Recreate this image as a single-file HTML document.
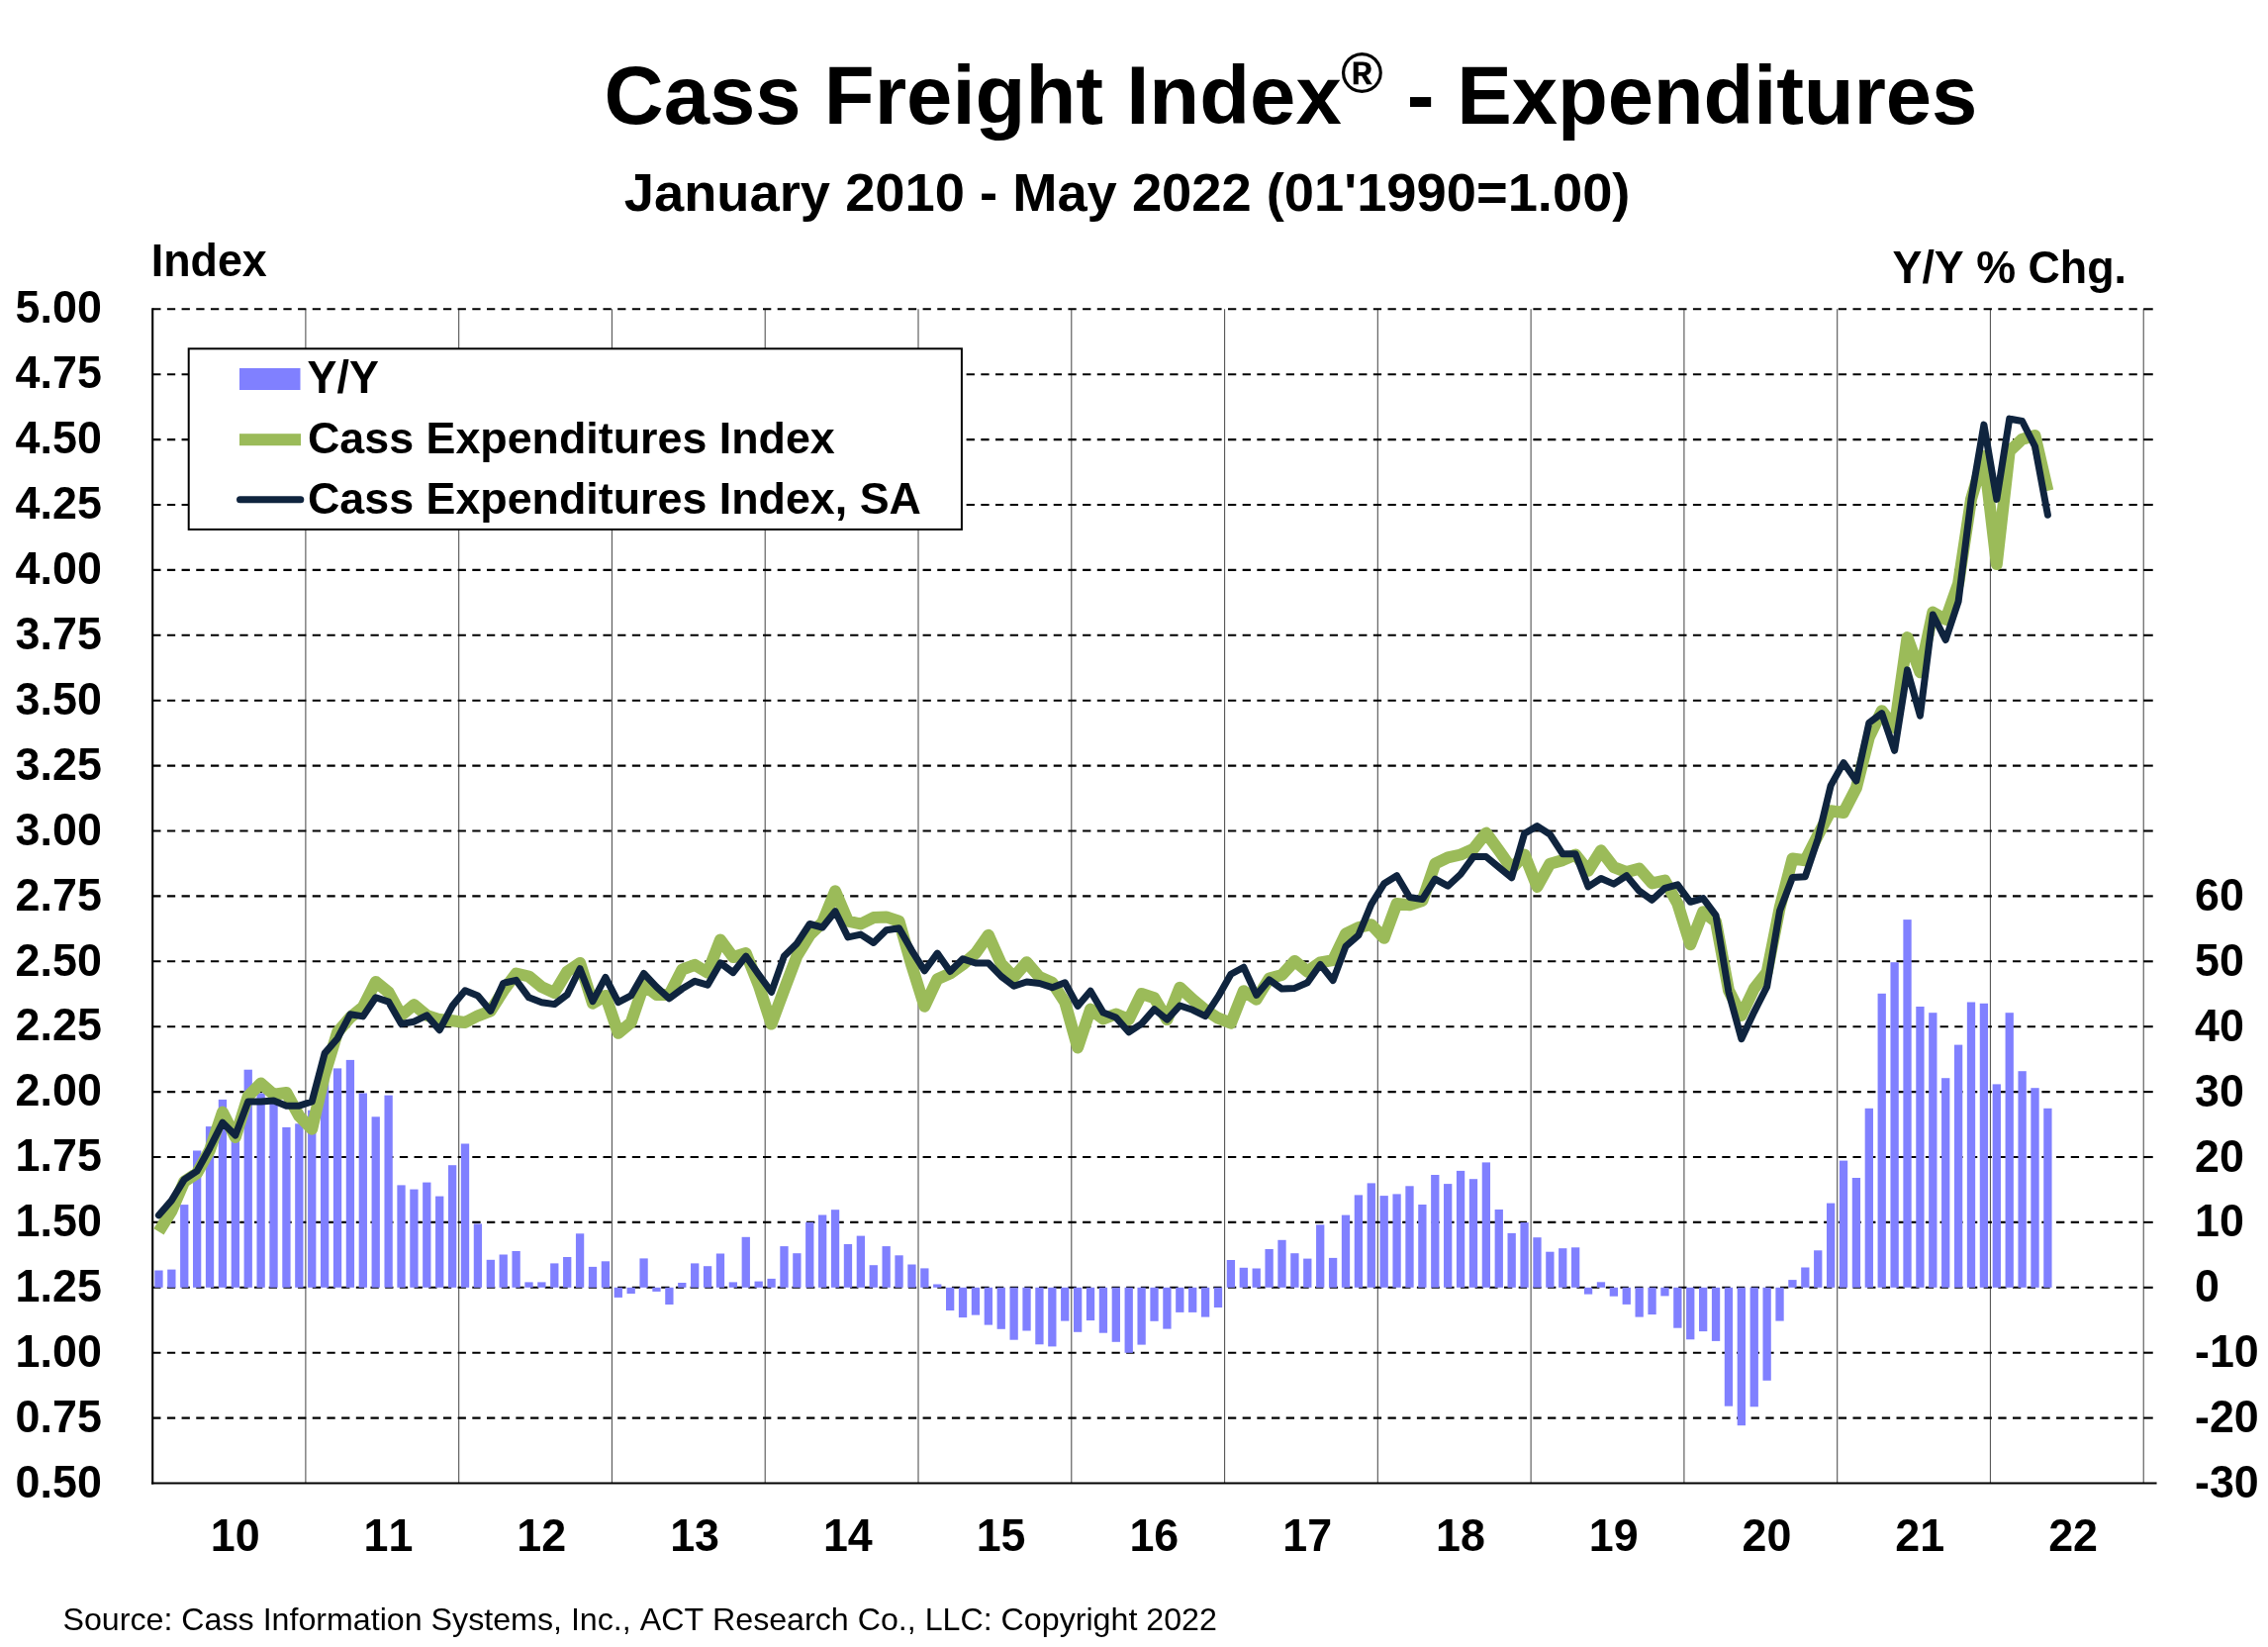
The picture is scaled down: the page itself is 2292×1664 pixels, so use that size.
<!DOCTYPE html>
<html><head><meta charset="utf-8"><title>Cass Freight Index - Expenditures</title>
<style>
html,body{margin:0;padding:0;background:#fff;}
body{width:2292px;height:1664px;overflow:hidden;}
svg{display:block;will-change:transform;font-family:"Liberation Sans",sans-serif;font-kerning:none;}
text{fill:#000;}
</style></head>
<body>
<svg width="2292" height="1664" viewBox="0 0 2292 1664">
<rect width="2292" height="1664" fill="#fff"/>
<line x1="308.88" y1="312.30" x2="308.88" y2="1498.50" stroke="#5a5a5a" stroke-width="1.15"/>
<line x1="463.66" y1="312.30" x2="463.66" y2="1498.50" stroke="#5a5a5a" stroke-width="1.15"/>
<line x1="618.44" y1="312.30" x2="618.44" y2="1498.50" stroke="#5a5a5a" stroke-width="1.15"/>
<line x1="773.22" y1="312.30" x2="773.22" y2="1498.50" stroke="#5a5a5a" stroke-width="1.15"/>
<line x1="928.00" y1="312.30" x2="928.00" y2="1498.50" stroke="#5a5a5a" stroke-width="1.15"/>
<line x1="1082.78" y1="312.30" x2="1082.78" y2="1498.50" stroke="#5a5a5a" stroke-width="1.15"/>
<line x1="1237.56" y1="312.30" x2="1237.56" y2="1498.50" stroke="#5a5a5a" stroke-width="1.15"/>
<line x1="1392.34" y1="312.30" x2="1392.34" y2="1498.50" stroke="#5a5a5a" stroke-width="1.15"/>
<line x1="1547.12" y1="312.30" x2="1547.12" y2="1498.50" stroke="#5a5a5a" stroke-width="1.15"/>
<line x1="1701.90" y1="312.30" x2="1701.90" y2="1498.50" stroke="#5a5a5a" stroke-width="1.15"/>
<line x1="1856.68" y1="312.30" x2="1856.68" y2="1498.50" stroke="#5a5a5a" stroke-width="1.15"/>
<line x1="2011.46" y1="312.30" x2="2011.46" y2="1498.50" stroke="#5a5a5a" stroke-width="1.15"/>
<line x1="2166.24" y1="312.30" x2="2166.24" y2="1498.50" stroke="#5a5a5a" stroke-width="1.15"/>
<line x1="154.20" y1="312.30" x2="2166.14" y2="312.30" stroke="#000" stroke-width="2.1" stroke-dasharray="8.3 6.386"/>
<line x1="2166.14" y1="312.30" x2="2175.74" y2="312.30" stroke="#000" stroke-width="2.1"/>
<line x1="154.20" y1="378.20" x2="2166.14" y2="378.20" stroke="#000" stroke-width="2.1" stroke-dasharray="8.3 6.386"/>
<line x1="2166.14" y1="378.20" x2="2175.74" y2="378.20" stroke="#000" stroke-width="2.1"/>
<line x1="154.20" y1="444.10" x2="2166.14" y2="444.10" stroke="#000" stroke-width="2.1" stroke-dasharray="8.3 6.386"/>
<line x1="2166.14" y1="444.10" x2="2175.74" y2="444.10" stroke="#000" stroke-width="2.1"/>
<line x1="154.20" y1="510.00" x2="2166.14" y2="510.00" stroke="#000" stroke-width="2.1" stroke-dasharray="8.3 6.386"/>
<line x1="2166.14" y1="510.00" x2="2175.74" y2="510.00" stroke="#000" stroke-width="2.1"/>
<line x1="154.20" y1="575.90" x2="2166.14" y2="575.90" stroke="#000" stroke-width="2.1" stroke-dasharray="8.3 6.386"/>
<line x1="2166.14" y1="575.90" x2="2175.74" y2="575.90" stroke="#000" stroke-width="2.1"/>
<line x1="154.20" y1="641.80" x2="2166.14" y2="641.80" stroke="#000" stroke-width="2.1" stroke-dasharray="8.3 6.386"/>
<line x1="2166.14" y1="641.80" x2="2175.74" y2="641.80" stroke="#000" stroke-width="2.1"/>
<line x1="154.20" y1="707.70" x2="2166.14" y2="707.70" stroke="#000" stroke-width="2.1" stroke-dasharray="8.3 6.386"/>
<line x1="2166.14" y1="707.70" x2="2175.74" y2="707.70" stroke="#000" stroke-width="2.1"/>
<line x1="154.20" y1="773.60" x2="2166.14" y2="773.60" stroke="#000" stroke-width="2.1" stroke-dasharray="8.3 6.386"/>
<line x1="2166.14" y1="773.60" x2="2175.74" y2="773.60" stroke="#000" stroke-width="2.1"/>
<line x1="154.20" y1="839.50" x2="2166.14" y2="839.50" stroke="#000" stroke-width="2.1" stroke-dasharray="8.3 6.386"/>
<line x1="2166.14" y1="839.50" x2="2175.74" y2="839.50" stroke="#000" stroke-width="2.1"/>
<line x1="154.20" y1="905.40" x2="2166.14" y2="905.40" stroke="#000" stroke-width="2.1" stroke-dasharray="8.3 6.386"/>
<line x1="2166.14" y1="905.40" x2="2175.74" y2="905.40" stroke="#000" stroke-width="2.1"/>
<line x1="154.20" y1="971.30" x2="2166.14" y2="971.30" stroke="#000" stroke-width="2.1" stroke-dasharray="8.3 6.386"/>
<line x1="2166.14" y1="971.30" x2="2175.74" y2="971.30" stroke="#000" stroke-width="2.1"/>
<line x1="154.20" y1="1037.20" x2="2166.14" y2="1037.20" stroke="#000" stroke-width="2.1" stroke-dasharray="8.3 6.386"/>
<line x1="2166.14" y1="1037.20" x2="2175.74" y2="1037.20" stroke="#000" stroke-width="2.1"/>
<line x1="154.20" y1="1103.10" x2="2166.14" y2="1103.10" stroke="#000" stroke-width="2.1" stroke-dasharray="8.3 6.386"/>
<line x1="2166.14" y1="1103.10" x2="2175.74" y2="1103.10" stroke="#000" stroke-width="2.1"/>
<line x1="154.20" y1="1169.00" x2="2166.14" y2="1169.00" stroke="#000" stroke-width="2.1" stroke-dasharray="8.3 6.386"/>
<line x1="2166.14" y1="1169.00" x2="2175.74" y2="1169.00" stroke="#000" stroke-width="2.1"/>
<line x1="154.20" y1="1234.90" x2="2166.14" y2="1234.90" stroke="#000" stroke-width="2.1" stroke-dasharray="8.3 6.386"/>
<line x1="2166.14" y1="1234.90" x2="2175.74" y2="1234.90" stroke="#000" stroke-width="2.1"/>
<line x1="154.20" y1="1300.80" x2="2166.14" y2="1300.80" stroke="#000" stroke-width="2.1" stroke-dasharray="8.3 6.386"/>
<line x1="2166.14" y1="1300.80" x2="2175.74" y2="1300.80" stroke="#000" stroke-width="2.1"/>
<line x1="154.20" y1="1366.70" x2="2166.14" y2="1366.70" stroke="#000" stroke-width="2.1" stroke-dasharray="8.3 6.386"/>
<line x1="2166.14" y1="1366.70" x2="2175.74" y2="1366.70" stroke="#000" stroke-width="2.1"/>
<line x1="154.20" y1="1432.60" x2="2166.14" y2="1432.60" stroke="#000" stroke-width="2.1" stroke-dasharray="8.3 6.386"/>
<line x1="2166.14" y1="1432.60" x2="2175.74" y2="1432.60" stroke="#000" stroke-width="2.1"/>
<rect x="156.30" y="1283.50" width="8.3" height="17.30" fill="#8080FF"/>
<rect x="169.20" y="1282.60" width="8.3" height="18.20" fill="#8080FF"/>
<rect x="182.10" y="1217.10" width="8.3" height="83.70" fill="#8080FF"/>
<rect x="194.99" y="1162.50" width="8.3" height="138.30" fill="#8080FF"/>
<rect x="207.89" y="1138.10" width="8.3" height="162.70" fill="#8080FF"/>
<rect x="220.79" y="1110.90" width="8.3" height="189.90" fill="#8080FF"/>
<rect x="233.69" y="1145.00" width="8.3" height="155.80" fill="#8080FF"/>
<rect x="246.59" y="1080.70" width="8.3" height="220.10" fill="#8080FF"/>
<rect x="259.49" y="1104.50" width="8.3" height="196.30" fill="#8080FF"/>
<rect x="272.38" y="1101.30" width="8.3" height="199.50" fill="#8080FF"/>
<rect x="285.28" y="1138.90" width="8.3" height="161.90" fill="#8080FF"/>
<rect x="298.18" y="1135.30" width="8.3" height="165.50" fill="#8080FF"/>
<rect x="311.08" y="1121.70" width="8.3" height="179.10" fill="#8080FF"/>
<rect x="323.98" y="1092.00" width="8.3" height="208.80" fill="#8080FF"/>
<rect x="336.88" y="1079.40" width="8.3" height="221.40" fill="#8080FF"/>
<rect x="349.77" y="1070.90" width="8.3" height="229.90" fill="#8080FF"/>
<rect x="362.67" y="1104.50" width="8.3" height="196.30" fill="#8080FF"/>
<rect x="375.57" y="1128.30" width="8.3" height="172.50" fill="#8080FF"/>
<rect x="388.47" y="1106.60" width="8.3" height="194.20" fill="#8080FF"/>
<rect x="401.37" y="1197.40" width="8.3" height="103.40" fill="#8080FF"/>
<rect x="414.27" y="1201.60" width="8.3" height="99.20" fill="#8080FF"/>
<rect x="427.16" y="1194.60" width="8.3" height="106.20" fill="#8080FF"/>
<rect x="440.06" y="1208.60" width="8.3" height="92.20" fill="#8080FF"/>
<rect x="452.96" y="1177.20" width="8.3" height="123.60" fill="#8080FF"/>
<rect x="465.86" y="1155.50" width="8.3" height="145.30" fill="#8080FF"/>
<rect x="478.76" y="1236.40" width="8.3" height="64.40" fill="#8080FF"/>
<rect x="491.66" y="1272.80" width="8.3" height="28.00" fill="#8080FF"/>
<rect x="504.55" y="1267.50" width="8.3" height="33.30" fill="#8080FF"/>
<rect x="517.45" y="1264.00" width="8.3" height="36.80" fill="#8080FF"/>
<rect x="530.35" y="1295.40" width="8.3" height="5.40" fill="#8080FF"/>
<rect x="543.25" y="1295.40" width="8.3" height="5.40" fill="#8080FF"/>
<rect x="556.15" y="1276.40" width="8.3" height="24.40" fill="#8080FF"/>
<rect x="569.05" y="1270.00" width="8.3" height="30.80" fill="#8080FF"/>
<rect x="581.94" y="1246.30" width="8.3" height="54.50" fill="#8080FF"/>
<rect x="594.84" y="1279.90" width="8.3" height="20.90" fill="#8080FF"/>
<rect x="607.74" y="1274.30" width="8.3" height="26.50" fill="#8080FF"/>
<rect x="620.64" y="1300.80" width="8.3" height="10.10" fill="#8080FF"/>
<rect x="633.54" y="1300.80" width="8.3" height="6.20" fill="#8080FF"/>
<rect x="646.44" y="1271.40" width="8.3" height="29.40" fill="#8080FF"/>
<rect x="659.33" y="1300.80" width="8.3" height="4.10" fill="#8080FF"/>
<rect x="672.23" y="1300.80" width="8.3" height="17.20" fill="#8080FF"/>
<rect x="685.13" y="1296.00" width="8.3" height="4.80" fill="#8080FF"/>
<rect x="698.03" y="1276.40" width="8.3" height="24.40" fill="#8080FF"/>
<rect x="710.93" y="1279.20" width="8.3" height="21.60" fill="#8080FF"/>
<rect x="723.83" y="1266.50" width="8.3" height="34.30" fill="#8080FF"/>
<rect x="736.72" y="1295.40" width="8.3" height="5.40" fill="#8080FF"/>
<rect x="749.62" y="1249.80" width="8.3" height="51.00" fill="#8080FF"/>
<rect x="762.52" y="1294.60" width="8.3" height="6.20" fill="#8080FF"/>
<rect x="775.42" y="1291.90" width="8.3" height="8.90" fill="#8080FF"/>
<rect x="788.32" y="1259.10" width="8.3" height="41.70" fill="#8080FF"/>
<rect x="801.22" y="1266.20" width="8.3" height="34.60" fill="#8080FF"/>
<rect x="814.11" y="1234.90" width="8.3" height="65.90" fill="#8080FF"/>
<rect x="827.01" y="1227.50" width="8.3" height="73.30" fill="#8080FF"/>
<rect x="839.91" y="1222.20" width="8.3" height="78.60" fill="#8080FF"/>
<rect x="852.81" y="1257.00" width="8.3" height="43.80" fill="#8080FF"/>
<rect x="865.71" y="1248.60" width="8.3" height="52.20" fill="#8080FF"/>
<rect x="878.61" y="1278.20" width="8.3" height="22.60" fill="#8080FF"/>
<rect x="891.50" y="1259.10" width="8.3" height="41.70" fill="#8080FF"/>
<rect x="904.40" y="1268.30" width="8.3" height="32.50" fill="#8080FF"/>
<rect x="917.30" y="1277.50" width="8.3" height="23.30" fill="#8080FF"/>
<rect x="930.20" y="1281.40" width="8.3" height="19.40" fill="#8080FF"/>
<rect x="943.10" y="1297.50" width="8.3" height="3.30" fill="#8080FF"/>
<rect x="956.00" y="1300.80" width="8.3" height="23.20" fill="#8080FF"/>
<rect x="968.89" y="1300.80" width="8.3" height="30.30" fill="#8080FF"/>
<rect x="981.79" y="1300.80" width="8.3" height="27.80" fill="#8080FF"/>
<rect x="994.69" y="1300.80" width="8.3" height="37.80" fill="#8080FF"/>
<rect x="1007.59" y="1300.80" width="8.3" height="42.00" fill="#8080FF"/>
<rect x="1020.49" y="1300.80" width="8.3" height="52.90" fill="#8080FF"/>
<rect x="1033.39" y="1300.80" width="8.3" height="43.70" fill="#8080FF"/>
<rect x="1046.28" y="1300.80" width="8.3" height="57.50" fill="#8080FF"/>
<rect x="1059.18" y="1300.80" width="8.3" height="59.60" fill="#8080FF"/>
<rect x="1072.08" y="1300.80" width="8.3" height="33.80" fill="#8080FF"/>
<rect x="1084.98" y="1300.80" width="8.3" height="45.00" fill="#8080FF"/>
<rect x="1097.88" y="1300.80" width="8.3" height="33.30" fill="#8080FF"/>
<rect x="1110.78" y="1300.80" width="8.3" height="45.90" fill="#8080FF"/>
<rect x="1123.67" y="1300.80" width="8.3" height="55.00" fill="#8080FF"/>
<rect x="1136.57" y="1300.80" width="8.3" height="66.00" fill="#8080FF"/>
<rect x="1149.47" y="1300.80" width="8.3" height="57.80" fill="#8080FF"/>
<rect x="1162.37" y="1300.80" width="8.3" height="34.00" fill="#8080FF"/>
<rect x="1175.27" y="1300.80" width="8.3" height="41.80" fill="#8080FF"/>
<rect x="1188.17" y="1300.80" width="8.3" height="25.10" fill="#8080FF"/>
<rect x="1201.06" y="1300.80" width="8.3" height="25.10" fill="#8080FF"/>
<rect x="1213.96" y="1300.80" width="8.3" height="29.80" fill="#8080FF"/>
<rect x="1226.86" y="1300.80" width="8.3" height="20.20" fill="#8080FF"/>
<rect x="1239.76" y="1273.00" width="8.3" height="27.80" fill="#8080FF"/>
<rect x="1252.66" y="1280.80" width="8.3" height="20.00" fill="#8080FF"/>
<rect x="1265.56" y="1281.50" width="8.3" height="19.30" fill="#8080FF"/>
<rect x="1278.45" y="1262.00" width="8.3" height="38.80" fill="#8080FF"/>
<rect x="1291.35" y="1252.80" width="8.3" height="48.00" fill="#8080FF"/>
<rect x="1304.25" y="1266.20" width="8.3" height="34.60" fill="#8080FF"/>
<rect x="1317.15" y="1271.60" width="8.3" height="29.20" fill="#8080FF"/>
<rect x="1330.05" y="1237.40" width="8.3" height="63.40" fill="#8080FF"/>
<rect x="1342.95" y="1270.90" width="8.3" height="29.90" fill="#8080FF"/>
<rect x="1355.84" y="1227.60" width="8.3" height="73.20" fill="#8080FF"/>
<rect x="1368.74" y="1207.40" width="8.3" height="93.40" fill="#8080FF"/>
<rect x="1381.64" y="1195.40" width="8.3" height="105.40" fill="#8080FF"/>
<rect x="1394.54" y="1208.10" width="8.3" height="92.70" fill="#8080FF"/>
<rect x="1407.44" y="1206.40" width="8.3" height="94.40" fill="#8080FF"/>
<rect x="1420.34" y="1198.30" width="8.3" height="102.50" fill="#8080FF"/>
<rect x="1433.23" y="1217.00" width="8.3" height="83.80" fill="#8080FF"/>
<rect x="1446.13" y="1187.00" width="8.3" height="113.80" fill="#8080FF"/>
<rect x="1459.03" y="1196.10" width="8.3" height="104.70" fill="#8080FF"/>
<rect x="1471.93" y="1182.90" width="8.3" height="117.90" fill="#8080FF"/>
<rect x="1484.83" y="1191.20" width="8.3" height="109.60" fill="#8080FF"/>
<rect x="1497.73" y="1174.40" width="8.3" height="126.40" fill="#8080FF"/>
<rect x="1510.62" y="1222.00" width="8.3" height="78.80" fill="#8080FF"/>
<rect x="1523.52" y="1245.90" width="8.3" height="54.90" fill="#8080FF"/>
<rect x="1536.42" y="1235.10" width="8.3" height="65.70" fill="#8080FF"/>
<rect x="1549.32" y="1250.20" width="8.3" height="50.60" fill="#8080FF"/>
<rect x="1562.22" y="1264.70" width="8.3" height="36.10" fill="#8080FF"/>
<rect x="1575.12" y="1261.20" width="8.3" height="39.60" fill="#8080FF"/>
<rect x="1588.01" y="1260.30" width="8.3" height="40.50" fill="#8080FF"/>
<rect x="1600.91" y="1300.80" width="8.3" height="6.80" fill="#8080FF"/>
<rect x="1613.81" y="1295.30" width="8.3" height="5.50" fill="#8080FF"/>
<rect x="1626.71" y="1300.80" width="8.3" height="8.90" fill="#8080FF"/>
<rect x="1639.61" y="1300.80" width="8.3" height="17.10" fill="#8080FF"/>
<rect x="1652.51" y="1300.80" width="8.3" height="29.80" fill="#8080FF"/>
<rect x="1665.40" y="1300.80" width="8.3" height="27.30" fill="#8080FF"/>
<rect x="1678.30" y="1300.80" width="8.3" height="8.60" fill="#8080FF"/>
<rect x="1691.20" y="1300.80" width="8.3" height="40.90" fill="#8080FF"/>
<rect x="1704.10" y="1300.80" width="8.3" height="52.50" fill="#8080FF"/>
<rect x="1717.00" y="1300.80" width="8.3" height="44.30" fill="#8080FF"/>
<rect x="1729.90" y="1300.80" width="8.3" height="54.10" fill="#8080FF"/>
<rect x="1742.79" y="1300.80" width="8.3" height="119.90" fill="#8080FF"/>
<rect x="1755.69" y="1300.80" width="8.3" height="139.40" fill="#8080FF"/>
<rect x="1768.59" y="1300.80" width="8.3" height="120.50" fill="#8080FF"/>
<rect x="1781.49" y="1300.80" width="8.3" height="94.00" fill="#8080FF"/>
<rect x="1794.39" y="1300.80" width="8.3" height="33.80" fill="#8080FF"/>
<rect x="1807.29" y="1293.10" width="8.3" height="7.70" fill="#8080FF"/>
<rect x="1820.18" y="1280.50" width="8.3" height="20.30" fill="#8080FF"/>
<rect x="1833.08" y="1263.30" width="8.3" height="37.50" fill="#8080FF"/>
<rect x="1845.98" y="1215.60" width="8.3" height="85.20" fill="#8080FF"/>
<rect x="1858.88" y="1172.60" width="8.3" height="128.20" fill="#8080FF"/>
<rect x="1871.78" y="1190.00" width="8.3" height="110.80" fill="#8080FF"/>
<rect x="1884.68" y="1119.80" width="8.3" height="181.00" fill="#8080FF"/>
<rect x="1897.57" y="1003.80" width="8.3" height="297.00" fill="#8080FF"/>
<rect x="1910.47" y="972.20" width="8.3" height="328.60" fill="#8080FF"/>
<rect x="1923.37" y="929.10" width="8.3" height="371.70" fill="#8080FF"/>
<rect x="1936.27" y="1017.00" width="8.3" height="283.80" fill="#8080FF"/>
<rect x="1949.17" y="1023.20" width="8.3" height="277.60" fill="#8080FF"/>
<rect x="1962.07" y="1089.20" width="8.3" height="211.60" fill="#8080FF"/>
<rect x="1974.96" y="1055.60" width="8.3" height="245.20" fill="#8080FF"/>
<rect x="1987.86" y="1012.50" width="8.3" height="288.30" fill="#8080FF"/>
<rect x="2000.76" y="1013.80" width="8.3" height="287.00" fill="#8080FF"/>
<rect x="2013.66" y="1095.40" width="8.3" height="205.40" fill="#8080FF"/>
<rect x="2026.56" y="1023.20" width="8.3" height="277.60" fill="#8080FF"/>
<rect x="2039.46" y="1082.20" width="8.3" height="218.60" fill="#8080FF"/>
<rect x="2052.35" y="1099.20" width="8.3" height="201.60" fill="#8080FF"/>
<rect x="2065.25" y="1119.80" width="8.3" height="181.00" fill="#8080FF"/>
<line x1="154.2" y1="311.30" x2="154.2" y2="1499.50" stroke="#000" stroke-width="2.1"/>
<line x1="153.00" y1="1498.50" x2="2179.54" y2="1498.50" stroke="#000" stroke-width="2.1"/>
<polyline points="160.45,1244.40 173.35,1223.50 186.25,1193.70 199.14,1185.20 212.04,1161.90 224.94,1123.60 237.84,1149.00 250.74,1107.50 263.64,1094.50 276.53,1105.80 289.43,1104.00 302.33,1127.60 315.23,1140.70 328.13,1085.40 341.03,1042.90 353.92,1028.00 366.82,1017.40 379.72,991.90 392.62,1002.50 405.52,1025.90 418.42,1015.20 431.31,1025.90 444.21,1030.10 457.11,1031.20 470.01,1033.00 482.91,1026.30 495.81,1021.40 508.70,1001.00 521.60,983.50 534.50,986.50 547.40,997.10 560.30,1003.00 573.20,981.60 586.09,972.90 598.99,1013.70 611.89,1005.90 624.79,1043.80 637.69,1033.10 650.59,995.20 663.48,1004.90 676.38,1004.90 689.28,979.70 702.18,974.80 715.08,982.60 727.98,949.50 740.87,967.00 753.77,963.10 766.67,995.20 779.57,1034.60 792.47,999.80 805.37,965.90 818.26,944.80 831.16,932.10 844.06,900.30 856.96,930.70 869.86,933.50 882.76,927.10 895.65,926.40 908.55,930.70 921.45,975.80 934.35,1016.70 947.25,989.20 960.15,983.60 973.04,974.40 985.94,963.10 998.84,944.80 1011.74,973.70 1024.64,987.10 1037.54,972.30 1050.43,987.10 1063.33,992.80 1076.23,1012.50 1089.13,1058.40 1102.03,1019.60 1114.93,1029.40 1127.82,1024.50 1140.72,1030.10 1153.62,1004.00 1166.52,1008.30 1179.42,1030.10 1192.32,997.70 1205.21,1009.70 1218.11,1020.30 1231.01,1028.70 1243.91,1033.70 1256.81,1001.20 1269.71,1009.70 1282.60,988.50 1295.50,985.00 1308.40,970.90 1321.30,981.50 1334.20,972.30 1347.10,970.20 1359.99,943.40 1372.89,937.00 1385.79,934.20 1398.69,947.80 1411.59,912.90 1424.49,914.30 1437.38,910.10 1450.28,872.70 1463.18,866.30 1476.08,863.50 1488.98,857.80 1501.88,841.60 1514.77,859.30 1527.67,877.60 1540.57,863.50 1553.47,895.90 1566.37,872.70 1579.27,869.10 1592.16,863.50 1605.06,879.70 1617.96,859.30 1630.86,876.20 1643.76,881.10 1656.66,877.60 1669.55,892.40 1682.45,889.60 1695.35,912.90 1708.25,954.30 1721.15,921.20 1734.05,931.30 1746.94,1000.50 1759.84,1026.00 1772.74,998.70 1785.64,982.30 1798.54,917.60 1811.44,867.50 1824.33,869.30 1837.23,843.80 1850.13,819.20 1863.03,821.00 1875.93,796.00 1888.83,744.90 1901.72,718.20 1914.62,735.20 1927.52,644.10 1940.42,679.30 1953.32,618.60 1966.22,625.90 1979.11,589.50 1992.01,504.40 2004.91,460.70 2017.81,570.00 2030.71,455.90 2043.61,443.70 2056.50,440.10 2069.40,495.90" fill="none" stroke="#9BBB59" stroke-width="12" stroke-linejoin="round" stroke-linecap="butt"/>
<polyline points="160.45,1227.80 173.35,1212.90 186.25,1191.60 199.14,1183.10 212.04,1159.70 224.94,1134.20 237.84,1147.00 250.74,1113.00 263.64,1113.00 276.53,1111.90 289.43,1117.20 302.33,1117.20 315.23,1113.00 328.13,1064.10 341.03,1049.20 353.92,1024.80 366.82,1026.90 379.72,1007.80 392.62,1012.10 405.52,1034.40 418.42,1032.20 431.31,1025.90 444.21,1040.70 457.11,1016.30 470.01,1000.70 482.91,1005.90 495.81,1021.40 508.70,993.30 521.60,990.30 534.50,1007.80 547.40,1012.70 560.30,1014.60 573.20,1004.90 586.09,978.70 598.99,1011.70 611.89,987.40 624.79,1012.70 637.69,1005.90 650.59,983.50 663.48,997.10 676.38,1008.80 689.28,999.10 702.18,991.30 715.08,995.20 727.98,972.90 740.87,982.60 753.77,966.10 766.67,984.50 779.57,1002.30 792.47,965.90 805.37,953.20 818.26,933.50 831.16,937.00 844.06,920.80 856.96,946.90 869.86,944.10 882.76,952.50 895.65,939.80 908.55,937.70 921.45,960.30 934.35,980.80 947.25,963.10 960.15,981.50 973.04,968.80 985.94,973.00 998.84,973.00 1011.74,986.40 1024.64,996.30 1037.54,992.00 1050.43,993.50 1063.33,997.70 1076.23,992.80 1089.13,1016.40 1102.03,1001.20 1114.93,1023.10 1127.82,1028.00 1140.72,1042.80 1153.62,1034.40 1166.52,1019.60 1179.42,1030.10 1192.32,1016.00 1205.21,1020.30 1218.11,1026.60 1231.01,1006.90 1243.91,984.30 1256.81,977.20 1269.71,1005.40 1282.60,989.90 1295.50,999.10 1308.40,998.40 1321.30,992.80 1334.20,974.40 1347.10,990.60 1359.99,956.10 1372.89,944.80 1385.79,913.70 1398.69,892.80 1411.59,884.70 1424.49,906.50 1437.38,908.60 1450.28,888.20 1463.18,895.20 1476.08,883.20 1488.98,865.60 1501.88,865.60 1514.77,876.20 1527.67,886.80 1540.57,842.30 1553.47,834.60 1566.37,843.00 1579.27,862.80 1592.16,862.80 1605.06,895.90 1617.96,887.50 1630.86,893.10 1643.76,884.70 1656.66,900.20 1669.55,909.30 1682.45,897.40 1695.35,893.80 1708.25,911.30 1721.15,907.60 1734.05,924.90 1746.94,1002.30 1759.84,1049.70 1772.74,1022.30 1785.64,996.80 1798.54,920.30 1811.44,886.60 1824.33,885.70 1837.23,847.40 1850.13,793.60 1863.03,770.60 1875.93,789.00 1888.83,730.30 1901.72,720.60 1914.62,758.30 1927.52,676.90 1940.42,723.10 1953.32,621.00 1966.22,646.50 1979.11,607.70 1992.01,504.40 2004.91,429.10 2017.81,504.40 2030.71,423.10 2043.61,425.50 2056.50,451.00 2069.40,520.20" fill="none" stroke="#0F243E" stroke-width="7" stroke-linejoin="round" stroke-linecap="round"/>
<rect x="190.7" y="352.3" width="781.2" height="182.6" fill="#fff" stroke="#000" stroke-width="2"/>
<rect x="242" y="372" width="61.5" height="22" fill="#8080FF"/>
<rect x="242" y="438.2" width="62" height="12" fill="#9BBB59"/>
<line x1="242.5" y1="504.7" x2="303.8" y2="504.7" stroke="#0F243E" stroke-width="7" stroke-linecap="round"/>
<g transform="translate(310.60,397.20) scale(1,1.02)"><text x="0" y="0" font-size="44.8" font-weight="bold" text-anchor="start" >Y/Y</text></g>
<text x="311.00" y="457.90" font-size="44.8" font-weight="bold" text-anchor="start" >Cass Expenditures Index</text>
<text x="311.00" y="518.90" font-size="44.8" font-weight="bold" text-anchor="start" >Cass Expenditures Index, SA</text>
<text x="610.50" y="125.00" font-size="83.3" font-weight="bold" text-anchor="start" >Cass Freight Index</text>
<text x="1355.00" y="94.20" font-size="58" font-weight="bold" text-anchor="start" >®</text>
<text x="1421.75" y="125.00" font-size="83.3" font-weight="bold" text-anchor="start" textLength="576.6" lengthAdjust="spacing">- Expenditures</text>
<text x="630.80" y="212.90" font-size="54.3" font-weight="bold" text-anchor="start" >January 2010 - May 2022 (01'1990=1.00)</text>
<g transform="translate(152.70,279.20) scale(1,1.02)"><text x="0" y="0" font-size="44.8" font-weight="bold" text-anchor="start" >Index</text></g>
<g transform="translate(1912.50,285.60) scale(1,1.02)"><text x="0" y="0" font-size="44.8" font-weight="bold" text-anchor="start" >Y/Y % Chg.</text></g>
<g transform="translate(102.80,326.10) scale(1,1.035)"><text x="0" y="0" font-size="44.8" font-weight="bold" text-anchor="end" >5.00</text></g>
<g transform="translate(102.80,392.04) scale(1,1.035)"><text x="0" y="0" font-size="44.8" font-weight="bold" text-anchor="end" >4.75</text></g>
<g transform="translate(102.80,457.98) scale(1,1.035)"><text x="0" y="0" font-size="44.8" font-weight="bold" text-anchor="end" >4.50</text></g>
<g transform="translate(102.80,523.92) scale(1,1.035)"><text x="0" y="0" font-size="44.8" font-weight="bold" text-anchor="end" >4.25</text></g>
<g transform="translate(102.80,589.86) scale(1,1.035)"><text x="0" y="0" font-size="44.8" font-weight="bold" text-anchor="end" >4.00</text></g>
<g transform="translate(102.80,655.80) scale(1,1.035)"><text x="0" y="0" font-size="44.8" font-weight="bold" text-anchor="end" >3.75</text></g>
<g transform="translate(102.80,721.74) scale(1,1.035)"><text x="0" y="0" font-size="44.8" font-weight="bold" text-anchor="end" >3.50</text></g>
<g transform="translate(102.80,787.68) scale(1,1.035)"><text x="0" y="0" font-size="44.8" font-weight="bold" text-anchor="end" >3.25</text></g>
<g transform="translate(102.80,853.62) scale(1,1.035)"><text x="0" y="0" font-size="44.8" font-weight="bold" text-anchor="end" >3.00</text></g>
<g transform="translate(102.80,919.56) scale(1,1.035)"><text x="0" y="0" font-size="44.8" font-weight="bold" text-anchor="end" >2.75</text></g>
<g transform="translate(102.80,985.50) scale(1,1.035)"><text x="0" y="0" font-size="44.8" font-weight="bold" text-anchor="end" >2.50</text></g>
<g transform="translate(102.80,1051.44) scale(1,1.035)"><text x="0" y="0" font-size="44.8" font-weight="bold" text-anchor="end" >2.25</text></g>
<g transform="translate(102.80,1117.38) scale(1,1.035)"><text x="0" y="0" font-size="44.8" font-weight="bold" text-anchor="end" >2.00</text></g>
<g transform="translate(102.80,1183.32) scale(1,1.035)"><text x="0" y="0" font-size="44.8" font-weight="bold" text-anchor="end" >1.75</text></g>
<g transform="translate(102.80,1249.26) scale(1,1.035)"><text x="0" y="0" font-size="44.8" font-weight="bold" text-anchor="end" >1.50</text></g>
<g transform="translate(102.80,1315.20) scale(1,1.035)"><text x="0" y="0" font-size="44.8" font-weight="bold" text-anchor="end" >1.25</text></g>
<g transform="translate(102.80,1381.14) scale(1,1.035)"><text x="0" y="0" font-size="44.8" font-weight="bold" text-anchor="end" >1.00</text></g>
<g transform="translate(102.80,1447.08) scale(1,1.035)"><text x="0" y="0" font-size="44.8" font-weight="bold" text-anchor="end" >0.75</text></g>
<g transform="translate(102.80,1513.02) scale(1,1.035)"><text x="0" y="0" font-size="44.8" font-weight="bold" text-anchor="end" >0.50</text></g>
<g transform="translate(2218.00,919.76) scale(1,1.035)"><text x="0" y="0" font-size="44.8" font-weight="bold" text-anchor="start" >60</text></g>
<g transform="translate(2218.00,985.70) scale(1,1.035)"><text x="0" y="0" font-size="44.8" font-weight="bold" text-anchor="start" >50</text></g>
<g transform="translate(2218.00,1051.64) scale(1,1.035)"><text x="0" y="0" font-size="44.8" font-weight="bold" text-anchor="start" >40</text></g>
<g transform="translate(2218.00,1117.58) scale(1,1.035)"><text x="0" y="0" font-size="44.8" font-weight="bold" text-anchor="start" >30</text></g>
<g transform="translate(2218.00,1183.52) scale(1,1.035)"><text x="0" y="0" font-size="44.8" font-weight="bold" text-anchor="start" >20</text></g>
<g transform="translate(2218.00,1249.46) scale(1,1.035)"><text x="0" y="0" font-size="44.8" font-weight="bold" text-anchor="start" >10</text></g>
<g transform="translate(2218.00,1315.40) scale(1,1.035)"><text x="0" y="0" font-size="44.8" font-weight="bold" text-anchor="start" >0</text></g>
<g transform="translate(2218.00,1381.34) scale(1,1.035)"><text x="0" y="0" font-size="44.8" font-weight="bold" text-anchor="start" >-10</text></g>
<g transform="translate(2218.00,1447.28) scale(1,1.035)"><text x="0" y="0" font-size="44.8" font-weight="bold" text-anchor="start" >-20</text></g>
<g transform="translate(2218.00,1513.22) scale(1,1.035)"><text x="0" y="0" font-size="44.8" font-weight="bold" text-anchor="start" >-30</text></g>
<g transform="translate(237.69,1566.70) scale(1,1.035)"><text x="0" y="0" font-size="44.8" font-weight="bold" text-anchor="middle" >10</text></g>
<g transform="translate(392.47,1566.70) scale(1,1.035)"><text x="0" y="0" font-size="44.8" font-weight="bold" text-anchor="middle" >11</text></g>
<g transform="translate(547.25,1566.70) scale(1,1.035)"><text x="0" y="0" font-size="44.8" font-weight="bold" text-anchor="middle" >12</text></g>
<g transform="translate(702.03,1566.70) scale(1,1.035)"><text x="0" y="0" font-size="44.8" font-weight="bold" text-anchor="middle" >13</text></g>
<g transform="translate(856.81,1566.70) scale(1,1.035)"><text x="0" y="0" font-size="44.8" font-weight="bold" text-anchor="middle" >14</text></g>
<g transform="translate(1011.59,1566.70) scale(1,1.035)"><text x="0" y="0" font-size="44.8" font-weight="bold" text-anchor="middle" >15</text></g>
<g transform="translate(1166.37,1566.70) scale(1,1.035)"><text x="0" y="0" font-size="44.8" font-weight="bold" text-anchor="middle" >16</text></g>
<g transform="translate(1321.15,1566.70) scale(1,1.035)"><text x="0" y="0" font-size="44.8" font-weight="bold" text-anchor="middle" >17</text></g>
<g transform="translate(1475.93,1566.70) scale(1,1.035)"><text x="0" y="0" font-size="44.8" font-weight="bold" text-anchor="middle" >18</text></g>
<g transform="translate(1630.71,1566.70) scale(1,1.035)"><text x="0" y="0" font-size="44.8" font-weight="bold" text-anchor="middle" >19</text></g>
<g transform="translate(1785.49,1566.70) scale(1,1.035)"><text x="0" y="0" font-size="44.8" font-weight="bold" text-anchor="middle" >20</text></g>
<g transform="translate(1940.27,1566.70) scale(1,1.035)"><text x="0" y="0" font-size="44.8" font-weight="bold" text-anchor="middle" >21</text></g>
<g transform="translate(2095.05,1566.70) scale(1,1.035)"><text x="0" y="0" font-size="44.8" font-weight="bold" text-anchor="middle" >22</text></g>
<text x="63.50" y="1647.40" font-size="32.2" font-weight="normal" text-anchor="start" >Source: Cass Information Systems, Inc., ACT Research Co., LLC: Copyright 2022</text>
</svg>
</body></html>
